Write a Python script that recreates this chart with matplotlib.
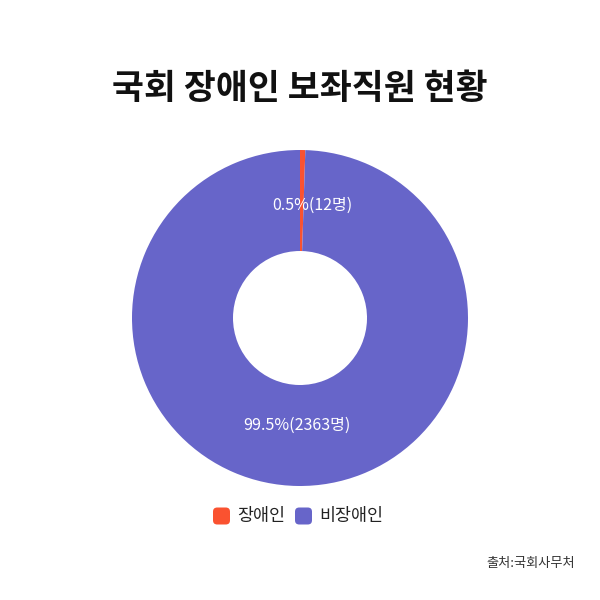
import numpy as np
import matplotlib
matplotlib.use('Agg')
import matplotlib.pyplot as plt
from matplotlib.patches import FancyBboxPatch

plt.rcParams['font.family'] = ['Noto Sans CJK KR', 'DejaVu Sans']

title = '국회 장애인 보좌직원 현황'
categories = ['장애인', '비장애인']
counts = [12, 2363]
percents = [0.5, 99.5]
colors = ['#FA5230', '#6765C9']
source = '출처:국회사무처'

fig = plt.figure(figsize=(6, 6), dpi=100)
ax = fig.add_axes([0.5 - 0.28, 0.47 - 0.28, 0.56, 0.56])

inner = 67 / 168
wedges, _ = ax.pie(counts, colors=colors, startangle=90, counterclock=False,
                   radius=1, wedgeprops=dict(width=1 - inner, linewidth=0))
ax.set_xlim(-1, 1)
ax.set_ylim(-1, 1)
ax.set_aspect('equal')
ax.axis('off')

r_lab = (1 + inner) / 2
offsets = [(0.06, -0.03), (-0.01, 0.06)]
for w, c, p, off in zip(wedges, counts, percents, offsets):
    ang = np.deg2rad((w.theta1 + w.theta2) / 2)
    x = r_lab * np.cos(ang) + off[0]
    y = r_lab * np.sin(ang) + off[1]
    ax.text(x, y, '%s%%(%d명)' % (p, c), ha='center', va='center',
            color='white', fontsize=11.5)

fig.text(0.5, 1 - 88 / 600, title, ha='center', va='center',
         fontsize=25, fontweight='bold', color='#111111')

# legend
leg_y = 1 - 516 / 600
items = [(213 / 600, categories[0], colors[0]), (295 / 600, categories[1], colors[1])]
for x0, lab, col in items:
    fig.patches.append(FancyBboxPatch((x0, leg_y - 8.5 / 600), 17 / 600, 17 / 600,
                                      boxstyle='round,pad=0,rounding_size=0.007',
                                      transform=fig.transFigure, facecolor=col,
                                      edgecolor='none'))
    fig.text(x0 + 24 / 600, leg_y, lab, ha='left', va='center',
             fontsize=12.5, color='#222222')

fig.text(575 / 600, 1 - 563 / 600, source, ha='right', va='center',
         fontsize=9.5, color='#333333')

fig.savefig('out.png', dpi=100, facecolor='white')
